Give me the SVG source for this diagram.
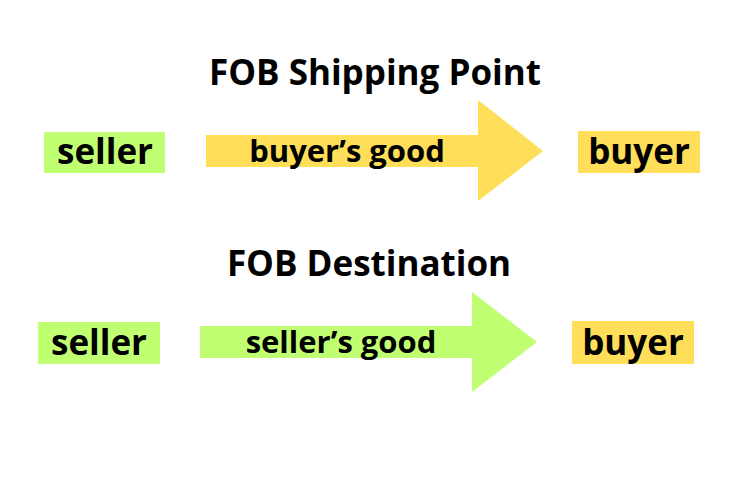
<svg xmlns="http://www.w3.org/2000/svg" width="741" height="478" viewBox="0 0 741 478">
<style>
text{font-family:"Open Sans","DejaVu Sans",sans-serif;font-weight:bold;fill:#000;text-anchor:middle}
.t{font-size:35px}.n{font-size:35px}.a{font-size:31px}
.g{fill:#c1ff72}.y{fill:#ffde59}
</style>
<rect width="741" height="478" fill="#fff"/>
<text class="t" x="375" y="85">FOB Shipping Point</text>
<text class="t" x="369" y="276">FOB Destination</text>
<g id="seller1"><rect class="g" x="44" y="132" width="121" height="41"/><text class="n" x="105" y="164">seller</text></g>
<g id="buyer1"><rect class="y" x="578" y="131" width="122" height="42"/><text class="n" x="639" y="164">buyer</text></g>
<g id="seller2"><rect class="g" x="38" y="322" width="122" height="42"/><text class="n" x="99" y="355">seller</text></g>
<g id="buyer2"><rect class="y" x="572" y="321" width="122" height="43"/><text class="n" x="633" y="355">buyer</text></g>
<g id="connectors">
<polygon class="y" points="206,135 478,135 478,100 543,151 478,201 478,167 206,167"/>
<text class="a" x="347" y="162">buyer’s good</text>
<polygon class="g" points="200,326 472,326 472,292 537,342 472,392 472,358 200,358"/>
<text class="a" x="341" y="353">seller’s good</text>
</g>
</svg>
